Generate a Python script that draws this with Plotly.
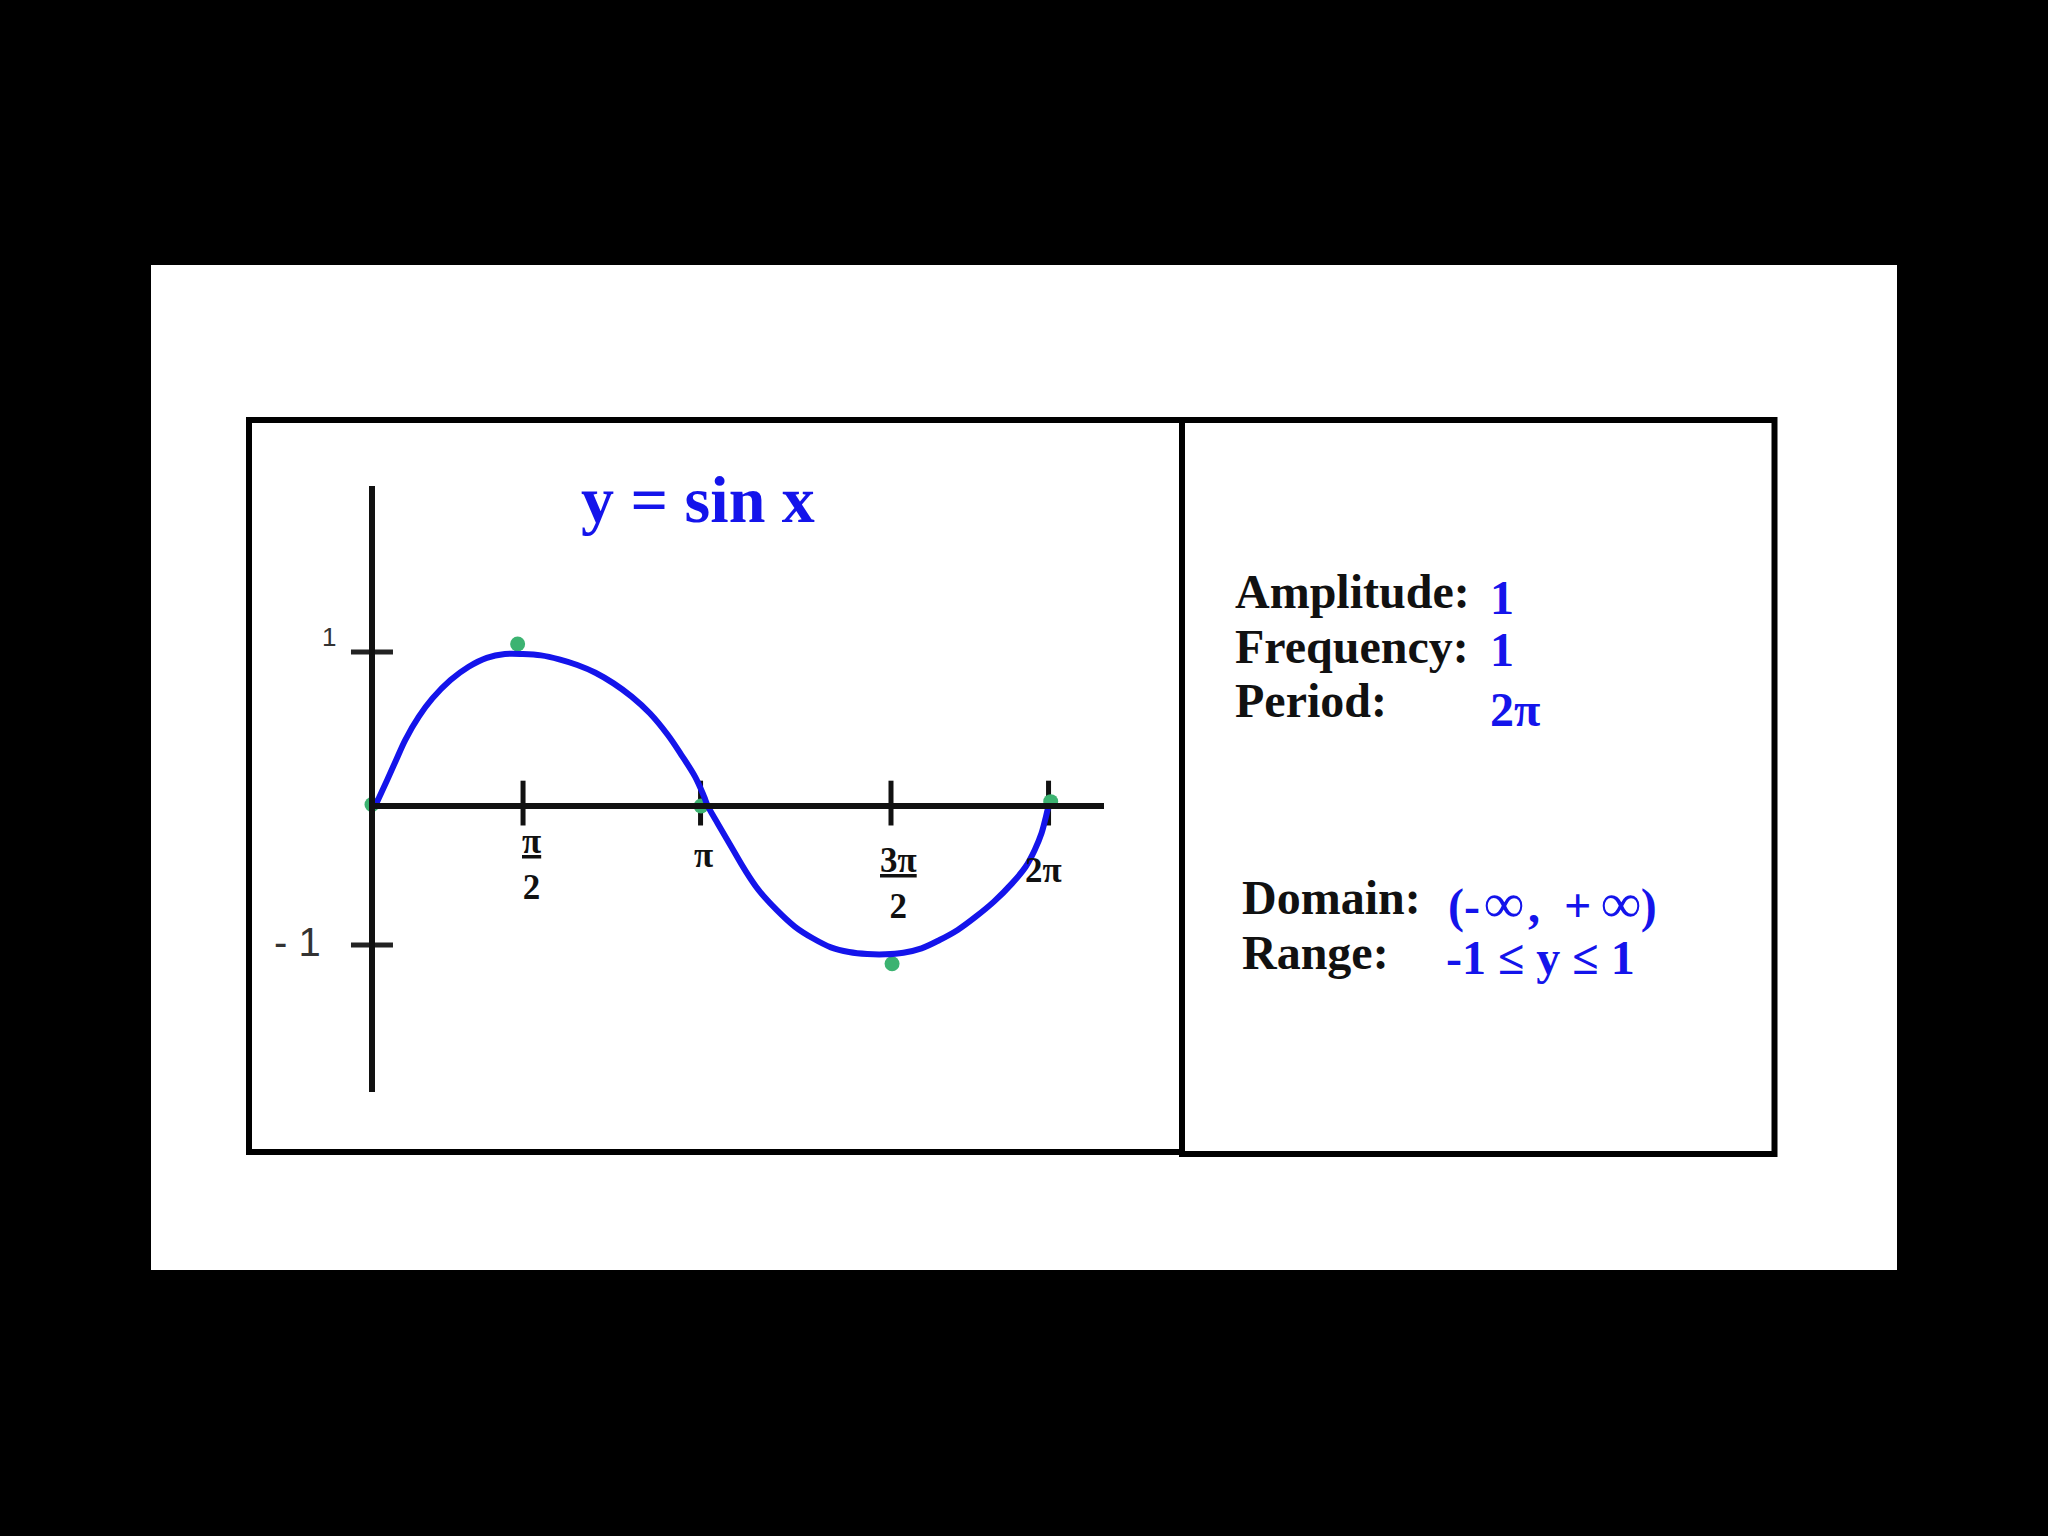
import plotly.graph_objects as go

# ---- data (x in radians, y in sin units) ----
curve_x = [0.03, 0.141, 0.224, 0.308, 0.434, 0.560, 0.728, 0.896, 1.064, 1.232,
           1.399, 1.567, 1.735, 1.903, 2.071, 2.239, 2.407, 2.575, 2.742, 2.868,
           2.994, 3.078, 3.111, 3.204, 3.330, 3.456, 3.582, 3.750, 3.918, 4.085,
           4.253, 4.421, 4.589, 4.757, 4.925, 5.093, 5.260, 5.428, 5.596, 5.764,
           5.932, 6.058, 6.142, 6.205, 6.246, 6.268]
curve_y = [0.00, 0.178, 0.315, 0.452, 0.612, 0.737, 0.863, 0.954, 1.015, 1.041,
           1.041, 1.032, 1.005, 0.966, 0.913, 0.840, 0.749, 0.635, 0.486, 0.349,
           0.201, 0.064, 0.002, -0.119, -0.279, -0.438, -0.575, -0.712, -0.826, -0.906,
           -0.968, -1.000, -1.014, -1.016, -1.005, -0.975, -0.918, -0.849, -0.758, -0.655,
           -0.530, -0.416, -0.301, -0.187, -0.073, -0.005]

key_x = [0.0, 1.35, 3.05, 4.82, 6.29]
key_y = [0.01, 1.11, 0.0, -1.08, 0.03]

xtick_vals = [1.40, 3.045, 4.81, 6.27]
xtick_text = ["<u>π</u><br>2", "π", "<u>3π</u><br>2", "2π"]
xlabel_x = [1.48, 3.07, 4.88, 6.22]
xlabel_y = [-0.40, -0.34, -0.53, -0.44]

ytick_vals = [1.055, -0.952]
ytick_text = ["1", "- 1"]

INF = "<span style='font-size:56px'>∞</span>"
title_text = "y = sin x"
info_labels = ["Amplitude:", "Frequency:", "Period:", "Domain:", "Range:"]
info_values = ["1", "1", "2π", "(-\u200a" + INF + "\u200a,\u2002+\u2009" + INF + ")",
               "-1 ≤ y ≤ 1"]

BLUE = "rgb(20,20,235)"
GREEN = "rgb(60,179,113)"
SERIF = "Liberation Serif"
W, H = 2048, 1536


def px(v):
    return v / W


def py(v):
    return 1 - v / H


fig = go.Figure()

# vertical tick marks on x axis
fig.add_trace(go.Scatter(
    x=xtick_vals, y=[0.02] * len(xtick_vals), mode="markers",
    marker=dict(symbol="line-ns-open", size=32, color="#111",
                line=dict(width=5, color="#111")),
    cliponaxis=False, hoverinfo="skip", showlegend=False))
# horizontal tick marks on y axis
fig.add_trace(go.Scatter(
    x=[0.0] * len(ytick_vals), y=ytick_vals, mode="markers",
    marker=dict(symbol="line-ew-open", size=30, color="#222",
                line=dict(width=5, color="#222")),
    cliponaxis=False, hoverinfo="skip", showlegend=False))
# key points (green)
fig.add_trace(go.Scatter(
    x=key_x, y=key_y, mode="markers",
    marker=dict(size=15, color=GREEN),
    cliponaxis=False, hoverinfo="skip", showlegend=False))
# sine curve
fig.add_trace(go.Scatter(
    x=curve_x, y=curve_y, mode="lines",
    line=dict(color=BLUE, width=6, shape="spline", smoothing=1.0),
    cliponaxis=False, showlegend=False))

annotations = []
# x tick labels
for xv, yv, t in zip(xlabel_x, xlabel_y, xtick_text):
    annotations.append(dict(x=xv, y=yv, xref="x", yref="y", text="<b>" + t + "</b>",
                            showarrow=False, xanchor="center", yanchor="middle",
                            font=dict(family=SERIF, size=35, color="#111")))
# y tick labels (hand-written look)
annotations.append(dict(x=px(329), y=py(637), xref="paper", yref="paper", text=ytick_text[0],
                        showarrow=False, xanchor="center", yanchor="middle",
                        font=dict(family="Liberation Sans", size=26, color="#333")))
annotations.append(dict(x=px(297), y=py(942), xref="paper", yref="paper", text=ytick_text[1],
                        showarrow=False, xanchor="center", yanchor="middle",
                        font=dict(family="Liberation Sans", size=40, color="#333")))
# title
annotations.append(dict(x=px(698), y=py(500), xref="paper", yref="paper",
                        text="<b>" + title_text + "</b>", showarrow=False,
                        xanchor="center", yanchor="middle",
                        font=dict(family=SERIF, size=66, color=BLUE)))
# info panel
label_pos = [(1233, 591), (1233, 646), (1233, 700), (1240, 897), (1240, 952)]
value_pos = [(1488, 597), (1488, 650), (1488, 709), (1446, 903), (1444, 957)]
for (lx, ly), t in zip(label_pos, info_labels):
    annotations.append(dict(x=px(lx), y=py(ly), xref="paper", yref="paper",
                            text="<b>" + t + "</b>", showarrow=False,
                            xanchor="left", yanchor="middle",
                            font=dict(family=SERIF, size=48, color="#111")))
for (vx, vy), t in zip(value_pos, info_values):
    annotations.append(dict(x=px(vx), y=py(vy), xref="paper", yref="paper",
                            text="<b>" + t + "</b>", showarrow=False,
                            xanchor="left", yanchor="middle",
                            font=dict(family=SERIF, size=48, color=BLUE)))

shapes = [
    dict(type="rect", xref="paper", yref="paper", x0=px(151), x1=px(1897),
         y0=py(1270), y1=py(265), fillcolor="white", line=dict(width=0), layer="below"),
    dict(type="rect", xref="paper", yref="paper", x0=px(249), x1=px(1182),
         y0=py(1152), y1=py(420), fillcolor="rgba(0,0,0,0)",
         line=dict(width=6, color="black"), layer="below"),
    dict(type="rect", xref="paper", yref="paper", x0=px(1182), x1=px(1774.5),
         y0=py(1154), y1=py(420), fillcolor="rgba(0,0,0,0)",
         line=dict(width=6, color="black"), layer="below"),
]

fig.update_layout(
    width=W, height=H, autosize=False,
    margin=dict(l=0, r=0, t=0, b=0, pad=0),
    paper_bgcolor="black", plot_bgcolor="rgba(0,0,0,0)",
    showlegend=False,
    xaxis=dict(range=[-0.01, 6.784], domain=[px(370.9), px(1104)], anchor="free",
               position=py(806), showline=True, linewidth=6, linecolor="#111",
               showgrid=False, zeroline=False, showticklabels=False, ticks="",
               fixedrange=True),
    yaxis=dict(range=[-1.959, 2.192], domain=[py(1092), py(486)], anchor="free",
               position=px(372), showline=True, linewidth=6, linecolor="#111",
               showgrid=False, zeroline=False, showticklabels=False, ticks="",
               fixedrange=True),
    annotations=annotations,
    shapes=shapes,
)

fig.write_html(
    "out.html",
    config={"displayModeBar": False},
    post_script=("document.documentElement.style.margin='0';"
                 "document.body.style.margin='0';"
                 "document.body.style.background='black';"
                 "document.body.style.overflow='hidden';"),
)
